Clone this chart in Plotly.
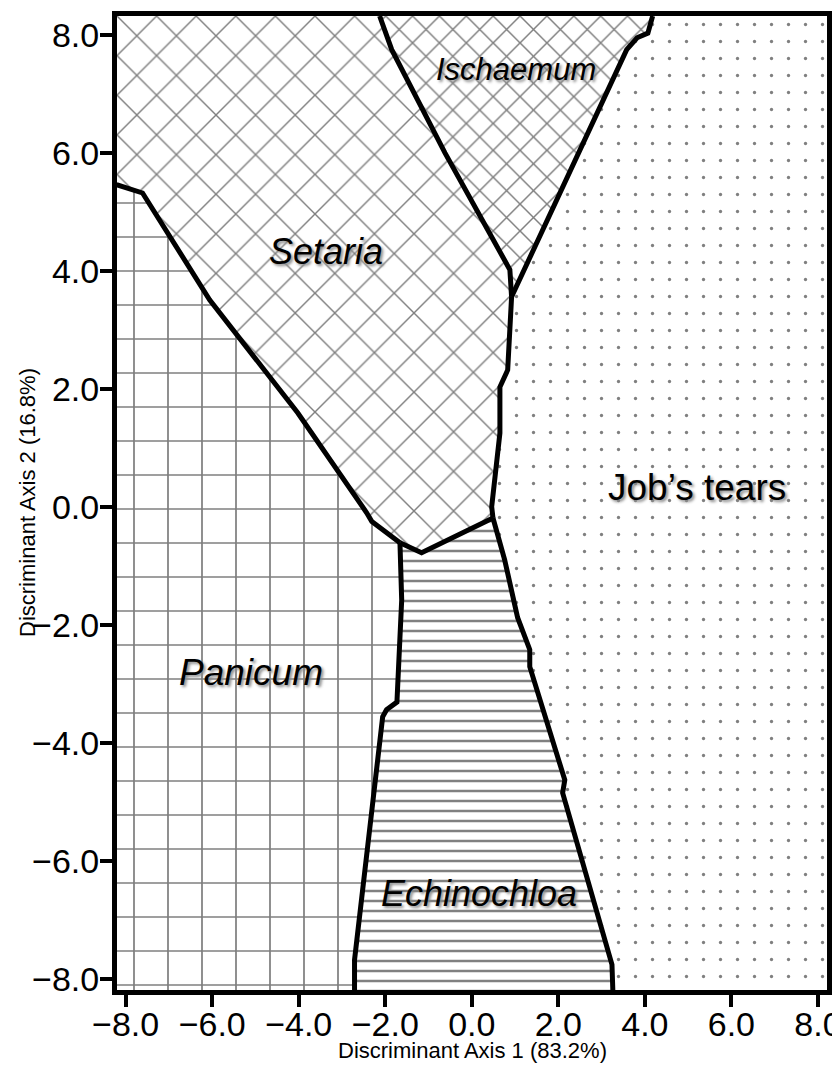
import plotly.graph_objects as go

# boundary lines between the classification regions (discriminant axis units)
setaria_panicum_x = [-8.21, -7.61, -6.06, -4.02, -2.43, -2.31, -1.66]
setaria_panicum_y = [5.46, 5.32, 3.51, 1.59, -0.10, -0.25, -0.61]

setaria_echino_x = [-1.66, -1.16, 0.49]
setaria_echino_y = [-0.61, -0.78, -0.19]

setaria_job_x = [0.49, 0.46, 0.65, 0.65, 0.83, 0.92]
setaria_job_y = [-0.19, 0.00, 1.25, 2.03, 2.32, 3.56]

setaria_isch_x = [0.92, 0.88, -0.62, -1.85, -2.13]
setaria_isch_y = [3.56, 4.02, 6.00, 7.75, 8.32]

isch_job_x = [0.92, 3.58, 3.82, 4.07, 4.18]
isch_job_y = [3.56, 7.75, 7.95, 8.03, 8.32]

panicum_echino_x = [-1.66, -1.62, -1.73, -1.97, -2.06, -2.71, -2.71]
panicum_echino_y = [-0.61, -1.58, -3.31, -3.44, -3.56, -7.68, -8.19]

echino_job_x = [0.49, 0.76, 1.06, 1.34, 1.34, 2.15, 2.10, 3.24, 3.26]
echino_job_y = [-0.19, -0.90, -1.88, -2.42, -2.71, -4.63, -4.85, -7.76, -8.19]

# group labels
group_names = ["Setaria", "Ischaemum", "Job\u2019s tears", "Panicum", "Echinochloa"]
label_x = [-3.36, 1.03, 5.21, -5.10, 0.16]
label_y = [4.32, 7.42, 0.32, -2.80, -6.55]

tick_vals = [-8, -6, -4, -2, 0, 2, 4, 6, 8]

xr = [-8.20, 8.21]
yr = [-8.19, 8.32]
E = 9.5  # outside the plot, gets clipped

FONT = "Liberation Sans, Arial, sans-serif"

# region polygons built from the shared boundaries
seta_x = (setaria_panicum_x + setaria_echino_x[1:] + setaria_job_x[1:]
          + setaria_isch_x[1:] + [setaria_isch_x[-1], -E, -E])
seta_y = (setaria_panicum_y + setaria_echino_y[1:] + setaria_job_y[1:]
          + setaria_isch_y[1:] + [E, E, setaria_panicum_y[0]])

pani_x = (setaria_panicum_x + panicum_echino_x[1:]
          + [panicum_echino_x[-1], -E, -E])
pani_y = (setaria_panicum_y + panicum_echino_y[1:]
          + [-E, -E, setaria_panicum_y[0]])

isch_x = setaria_isch_x + [setaria_isch_x[-1], isch_job_x[-1]] + isch_job_x[::-1]
isch_y = setaria_isch_y + [E, E] + isch_job_y[::-1]

job_x = (isch_job_x + [isch_job_x[-1], E, E, echino_job_x[-1]]
         + echino_job_x[::-1] + setaria_job_x[1:])
job_y = (isch_job_y + [E, E, -E, -E]
         + echino_job_y[::-1] + setaria_job_y[1:])

echi_x = (setaria_echino_x + echino_job_x[1:] + [echino_job_x[-1], panicum_echino_x[-1]]
          + panicum_echino_x[::-1])
echi_y = (setaria_echino_y + echino_job_y[1:] + [-E, -E]
          + panicum_echino_y[::-1])

fig = go.Figure()

regions = [
    (seta_x, seta_y, dict(shape="x", size=28, solidity=0.1)),
    (pani_x, pani_y, dict(shape="+", size=34, solidity=0.1)),
    (isch_x, isch_y, dict(shape="x", size=19, solidity=0.15)),
    (job_x, job_y, dict(shape=".", size=17, solidity=0.03)),
    (echi_x, echi_y, dict(shape="-", size=10, solidity=0.25)),
]
for rx, ry, pat in regions:
    pat.update(fgcolor="#808080", bgcolor="white", fillmode="replace")
    fig.add_trace(go.Scatter(x=rx, y=ry, fill="toself", mode="lines",
                             line=dict(width=0), fillcolor="white",
                             fillpattern=pat, hoverinfo="skip",
                             showlegend=False))

boundaries = [
    (setaria_panicum_x, setaria_panicum_y),
    (setaria_echino_x, setaria_echino_y),
    (setaria_job_x, setaria_job_y),
    (setaria_isch_x, setaria_isch_y),
    (isch_job_x, isch_job_y),
    (panicum_echino_x, panicum_echino_y),
    (echino_job_x, echino_job_y),
]
for bx, by in boundaries:
    fig.add_trace(go.Scatter(x=bx, y=by, mode="lines",
                             line=dict(color="black", width=5),
                             hoverinfo="skip", showlegend=False))

sizes = [36, 31, 37, 37, 36]
for name, lx, ly, sz in zip(group_names, label_x, label_y, sizes):
    fig.add_annotation(x=lx, y=ly, text=name, showarrow=False,
                       font=dict(family=FONT, size=sz, color="black",
                                 style="normal" if "Job" in name else "italic",
                                 shadow="2px 2px 3px #888"))

# axis titles
fig.add_annotation(x=0.5, y=0, xref="paper", yref="paper", yshift=-60,
                   xanchor="center", yanchor="middle",
                   text="Discriminant Axis 1 (83.2%)", showarrow=False,
                   font=dict(family=FONT, size=22, color="black"))
fig.add_annotation(x=0, y=0.5, xref="paper", yref="paper", xshift=-90,
                   xanchor="center", yanchor="middle",
                   text="Discriminant Axis 2 (16.8%)", showarrow=False,
                   textangle=-90,
                   font=dict(family=FONT, size=22, color="black"))

fig.update_xaxes(range=xr, tickvals=tick_vals, tickformat=".1f",
                 ticks="outside", ticklen=12, tickwidth=4, tickcolor="black",
                 showline=True, linewidth=5, linecolor="black", mirror=True,
                 showgrid=False, zeroline=False, automargin=False,
                 ticklabeloverflow="allow", ticklabelstandoff=-12,
                 tickfont=dict(family=FONT, size=34, color="black"))
fig.update_yaxes(range=yr, tickvals=tick_vals, tickformat=".1f",
                 ticks="outside", ticklen=12, tickwidth=4, tickcolor="black",
                 showline=True, linewidth=5, linecolor="black", mirror=True,
                 showgrid=False, zeroline=False, automargin=False,
                 ticklabelstandoff=-6,
                 tickfont=dict(family=FONT, size=34, color="black"))

# page body keeps an 8px margin, so the figure is 16px smaller than the window
fig.update_layout(width=824, height=1055, plot_bgcolor="white",
                  paper_bgcolor="white",
                  margin=dict(l=109, r=5, t=8, b=73))

fig.write_html("out.html")
